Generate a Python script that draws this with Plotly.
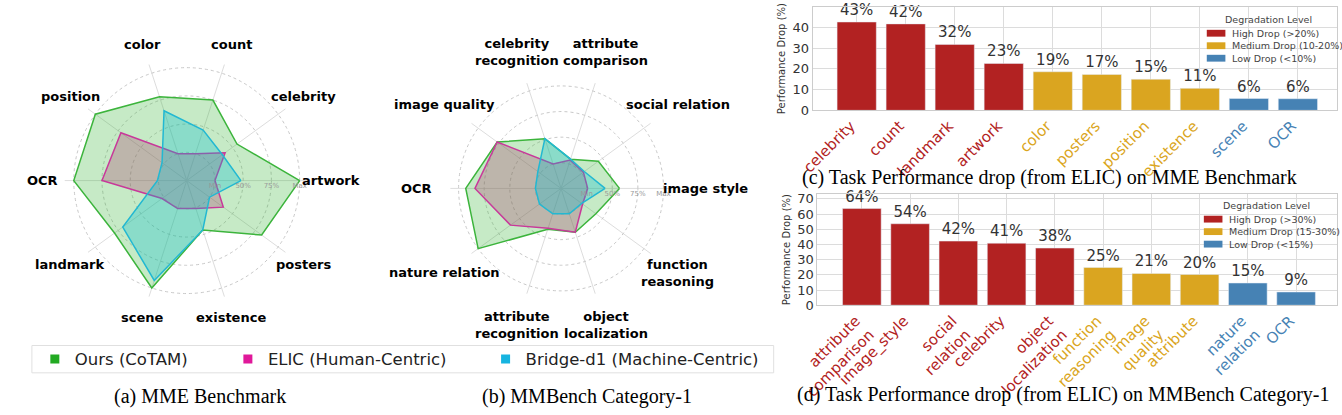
import math
import plotly.graph_objects as go

W, H = 1342, 415

# (a) MME radar, normalised scores
mme_axes = ["artwork", "celebrity", "count", "color", "position", "OCR",
            "landmark", "scene", "existence", "posters"]
mme_ours = [1.0, 0.55, 0.75, 0.78, 1.0, 1.0, 0.79, 1.0, 0.46, 0.82]
mme_elic = [0.25, 0.42, 0.25, 0.25, 0.72, 0.75, 0.27, 0.26, 0.26, 0.40]
mme_bridge = [0.48, 0.39, 0.47, 0.65, 0.27, 0.26, 0.70, 0.93, 0.46, 0.25]

# (b) MMBench radar
mmb_axes = ["image style", "social relation", "attribute<br>comparison",
            "celebrity<br>recognition", "image quality", "OCR", "nature relation",
            "attribute<br>recognition", "object<br>localization", "function<br>reasoning"]
mmb_ours = [0.57, 0.45, 0.30, 0.51, 0.77, 0.93, 1.0, 0.42, 0.45, 0.42]
mmb_elic = [0.26, 0.27, 0.29, 0.25, 0.77, 0.84, 0.61, 0.41, 0.45, 0.26]
mmb_bridge = [0.43, 0.28, 0.30, 0.51, 0.28, 0.25, 0.26, 0.26, 0.26, 0.25]

radial_ticks = [0.25, 0.5, 0.75, 1.0]
radial_text = ["Min", "50%", "75%", "Max"]

# (c) MME performance drop
mme_tasks = ["celebrity", "count", "landmark", "artwork", "color", "posters",
             "position", "existence", "scene", "OCR"]
mme_drop = [42.6, 41.7, 31.8, 22.6, 18.6, 17.3, 15.0, 10.6, 5.7, 5.6]
mme_level = ["High", "High", "High", "High", "Medium", "Medium", "Medium",
             "Medium", "Low", "Low"]
mme_level_names = {"High": "High Drop (>20%)", "Medium": "Medium Drop (10-20%)",
                   "Low": "Low Drop (<10%)"}

# (d) MMBench performance drop
mmb_tasks = ["attribute<br>comparison", "image_style", "social<br>relation", "celebrity",
             "object<br>localization", "function<br>reasoning", "image<br>quality",
             "attribute", "nature<br>relation", "OCR"]
mmb_drop = [63.6, 53.6, 42.2, 40.8, 37.6, 24.8, 20.9, 20.2, 14.6, 8.7]
mmb_level = ["High", "High", "High", "High", "High", "Medium", "Medium", "Medium",
             "Low", "Low"]
mmb_level_names = {"High": "High Drop (>30%)", "Medium": "Medium Drop (15-30%)",
                   "Low": "Low Drop (<15%)"}

levels = ["High", "Medium", "Low"]
level_colors = {"High": "#b22222", "Medium": "#daa520", "Low": "#4682b4"}

methods = [
    ("Ours (CoTAM)", "#3cb43c", "rgba(50,180,50,0.28)", "#22aa22"),
    ("ELIC (Human-Centric)", "#c8399a", "rgba(170,60,110,0.30)", "#e0189a"),
    ("Bridge-d1 (Machine-Centric)", "#22b8d2", "rgba(0,190,210,0.30)", "#16b4e0"),
]
method_legends = ["legend", "legend4", "legend5"]

fig = go.Figure()

# radar layout: pixel centre and frame radius of each polar subplot
radar_sets = [("polar", mme_axes, [mme_ours, mme_elic, mme_bridge], 163, 183, 125),
              ("polar2", mmb_axes, [mmb_ours, mmb_elic, mmb_bridge], 545, 191, 113.4)]
for sub, axes, series, cx, cy, rad in radar_sets:
    for (name, line, fill, _), vals in zip(methods, series):
        fig.add_trace(go.Scatterpolar(
            r=vals + vals[:1], theta=axes + axes[:1], mode="lines", fill="toself",
            fillcolor=fill, line=dict(color=line, width=1.5),
            name=name, showlegend=False, subplot=sub))

# legend entries (square markers), one small legend each
for (name, line, fill, sq), lg in zip(methods, method_legends):
    fig.add_trace(go.Scatterpolar(
        r=[None], theta=[mme_axes[0]], mode="markers", name=name,
        marker=dict(symbol="square", size=9, color=sq), subplot="polar", legend=lg))

# bar charts
bar_sets = [("x", "y", mme_tasks, mme_drop, mme_level, mme_level_names),
            ("x2", "y2", mmb_tasks, mmb_drop, mmb_level, mmb_level_names)]
for xa, ya, tasks, drop, level, names in bar_sets:
    for lv in levels:
        xs = [t for t, l in zip(tasks, level) if l == lv]
        ys = [d for d, l in zip(drop, level) if l == lv]
        fig.add_trace(go.Bar(
            x=xs, y=ys, name=names[lv], marker_color=level_colors[lv],
            texttemplate="%{y:.0f}%", textposition="outside", cliponaxis=False,
            textfont=dict(size=15, color="#333333"), xaxis=xa, yaxis=ya, showlegend=False))

polar_common = dict(
    bgcolor="white",
    radialaxis=dict(range=[0, 1.08], tickvals=radial_ticks, ticktext=radial_text,
                    showline=False, ticks="", angle=0, gridcolor="#c8c8c8", griddash="dot",
                    tickfont=dict(size=7, color="#999999")),
)


def angular(axes):
    return dict(categoryorder="array", categoryarray=axes, direction="counterclockwise",
                rotation=0, showline=False, gridcolor="#dddddd", showticklabels=False)


def tick_labels(tasks, level):
    return ["<span style='color:%s'>%s</span>" % (level_colors[l], t) for t, l in zip(tasks, level)]


xcommon = dict(type="category", tickangle=-45, showgrid=True, gridcolor="#dcdcdc",
               showline=True, linecolor="#cccccc", mirror=True, ticks="",
               tickfont=dict(size=15), ticklabelshift=-6)
ycommon = dict(showgrid=True, gridcolor="#dcdcdc", showline=True, linecolor="#cccccc",
               mirror=True, ticks="", tickfont=dict(size=13, color="#333333"),
               title=dict(text="Performance Drop (%)", font=dict(size=10, color="#333333"),
                          standoff=4), zeroline=False)

small = dict(family="DejaVu Sans", size=9.5, color="#444444")
annotations, shapes = [], []

# radar category labels, centred on a ring outside the frame (matplotlib style)
label_ring = 147
for sub, axes, series, cx, cy, rad in radar_sets:
    n = len(axes)
    for i, name in enumerate(axes):
        ang = 2 * math.pi * i / n
        annotations.append(dict(
            text=name, x=(cx + label_ring * math.cos(ang)) / W,
            y=(H - cy + label_ring * math.sin(ang)) / H, xref="paper", yref="paper",
            showarrow=False, xanchor="center", yanchor="middle", align="center",
            font=dict(family="DejaVu Sans", size=13, color="black", weight="bold")))


def level_legend(names, x_sw, title_x, title_y, row0, dy):
    # compact matplotlib-style legend: title, colour swatch + label per level
    annotations.append(dict(text="Degradation Level", x=title_x / W, y=(H - title_y) / H,
                            xref="paper", yref="paper", showarrow=False,
                            xanchor="center", yanchor="middle", font=small))
    for i, lv in enumerate(levels):
        yc = row0 + i * dy
        shapes.append(dict(type="rect", xref="paper", yref="paper",
                           x0=x_sw / W, x1=(x_sw + 19) / W,
                           y0=(H - yc - 3.5) / H, y1=(H - yc + 3.5) / H,
                           fillcolor=level_colors[lv], line_width=0))
        annotations.append(dict(text=names[lv], x=(x_sw + 24) / W, y=(H - yc) / H,
                                xref="paper", yref="paper", showarrow=False,
                                xanchor="left", yanchor="middle", font=small))


level_legend(mme_level_names, 1204, 1267, 18, 32, 12.8)
level_legend(mmb_level_names, 1201, 1265, 209, 222.5, 12.8)

# frame around the method legend
shapes.append(dict(type="rect", xref="paper", yref="paper", x0=5 / W, x1=762 / W,
                   y0=(H - 380) / H, y1=(H - 352) / H,
                   line=dict(color="#e0e0e0", width=1), fillcolor="rgba(0,0,0,0)"))

captions = [
    ("(a) MME Benchmark", 177, 404),
    ("(b) MMBench Category-1", 571, 404),
    ("(c) Task Performance drop (from ELIC) on MME Benchmark", 1043, 180),
    ("(d) Task Performance drop (from ELIC) on MMBench Category-1", 1058, 402),
]
for t, x, y in captions:
    annotations.append(dict(text=t, x=x / W, y=(H - y) / H, xref="paper", yref="paper",
                            showarrow=False, xanchor="center", yanchor="middle",
                            font=dict(family="Liberation Serif", size=20, color="black")))

method_legend_x = [8, 205, 468]
legend_cfg = {}
for lg, lx in zip(method_legends, method_legend_x):
    legend_cfg[lg] = dict(orientation="h", x=lx / W, y=(H - 366) / H, xanchor="left",
                          yanchor="middle", bgcolor="rgba(0,0,0,0)", borderwidth=0,
                          font=dict(size=16.5, color="#222222"))


def polar_domain(cx, cy, rad):
    return dict(x=[(cx - rad) / W, (cx + rad) / W], y=[(H - cy - rad) / H, (H - cy + rad) / H])


fig.update_layout(
    width=W, height=H, margin=dict(l=0, r=0, t=0, b=0),
    paper_bgcolor="white", plot_bgcolor="white",
    font=dict(family="DejaVu Sans", color="#222222"),
    barmode="overlay", bargap=0.2,
    polar=dict(domain=polar_domain(*radar_sets[0][3:]),
               angularaxis=angular(mme_axes), **polar_common),
    polar2=dict(domain=polar_domain(*radar_sets[1][3:]),
                angularaxis=angular(mmb_axes), **polar_common),
    xaxis=dict(domain=[801.7 / W, 1337 / W], anchor="y", range=[-0.9, 9.8],
               categoryorder="array", categoryarray=mme_tasks,
               tickvals=mme_tasks, ticktext=tick_labels(mme_tasks, mme_level), **xcommon),
    yaxis=dict(domain=[(H - 111) / H, (H - 5) / H], anchor="x", range=[0, 49.9],
               dtick=10, **ycommon),
    xaxis2=dict(domain=[806.7 / W, 1337 / W], anchor="y2", range=[-0.92, 9.85],
                categoryorder="array", categoryarray=mmb_tasks,
                tickvals=mmb_tasks, ticktext=tick_labels(mmb_tasks, mmb_level), **xcommon),
    yaxis2=dict(domain=[(H - 310.7) / H, (H - 196.7) / H], anchor="x2", range=[0, 73.2],
                dtick=10, **ycommon),
    annotations=annotations,
    shapes=shapes,
    **legend_cfg,
)

# the page is exactly the figure size, so drop the default body margin
fig.write_html("out.html", config={"displayModeBar": False},
               post_script="document.body.style.margin='0px';")
